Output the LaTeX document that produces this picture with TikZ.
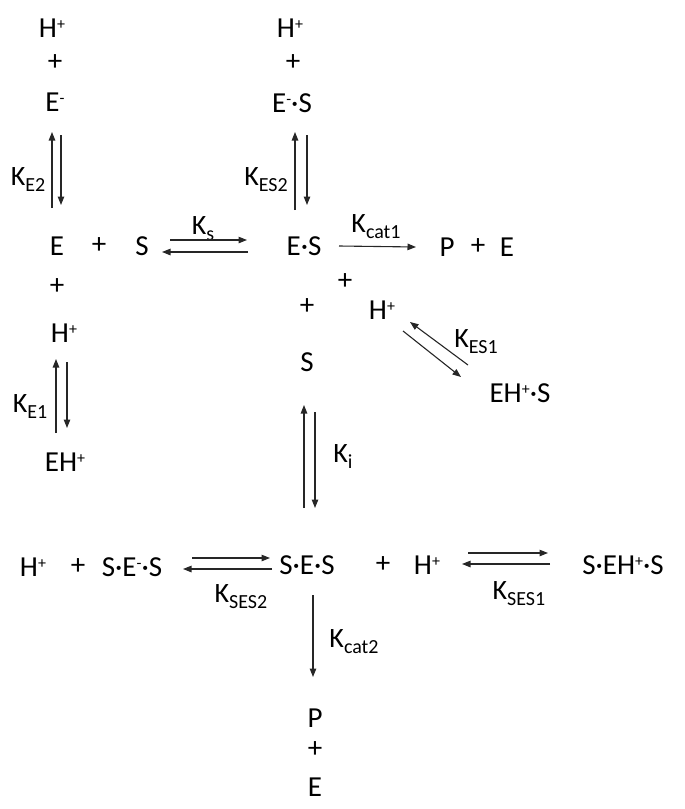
\documentclass[tikz,border=0pt]{standalone}
\usepackage{fontspec}
\setmainfont{Carlito}
\usetikzlibrary{arrows.meta}

\newcommand\chg[1]{\raisebox{0.55ex}{\fontsize{16}{16}\selectfont #1}}
\newcommand\kk[1]{K\raisebox{-0.45ex}{\fontsize{20}{20}\selectfont #1}}

\begin{document}
\begin{tikzpicture}[x=1pt,y=-1pt,
	species/.style={inner sep=0pt,font=\fontsize{29}{32}\selectfont},
	rate/.style={inner sep=0pt,font=\fontsize{28}{31}\selectfont},
	rxn/.style={line width=1.1pt,draw=black!85,-{Triangle[length=8.5pt,width=6.5pt]}}]

	\useasboundingbox (0,0) rectangle (685,809);

	% Colonne de gauche
	\node[species] (hpA) at (52,28) {H\chg{+}};
	\node[species] (plA) at (55,63) {+};
	\node[species] (emA) at (55,102) {E\chg{-}};
	\node[species] (eA) at (57,246) {E};
	\node[species] (plB) at (99,246) {+};
	\node[species] (sA) at (142,246) {S};
	\node[species] (plC) at (57,287) {+};
	\node[species] (hpB) at (64,333) {H\chg{+}};
	\node[species] (ehp) at (65,462) {EH\chg{+}};

	% Colonne du milieu
	\node[species] (hpC) at (290,28) {H\chg{+}};
	\node[species] (plD) at (293,63) {+};
	\node[species] (emS) at (292,103) {E\chg{-}·S};
	\node[species] (es) at (304,246) {E·S};
	\node[species] (pA) at (447,247) {P};
	\node[species] (plE) at (478,247) {+};
	\node[species] (eC) at (507,247) {E};
	\node[species] (plF) at (345,282) {+};
	\node[species] (plG) at (307,307) {+};
	\node[species] (hpD) at (382,310) {H\chg{+}};
	\node[species] (ehps) at (520,393) {EH\chg{+}·S};
	\node[species] (sB) at (307,362) {S};

	% Ligne du bas
	\node[species] (hpE) at (33,567) {H\chg{+}};
	\node[species] (plH) at (78,567) {+};
	\node[species] (sems) at (132,567) {S·E\chg{-}·S};
	\node[species] (ses) at (307,565) {S·E·S};
	\node[species] (plI) at (383,565) {+};
	\node[species] (hpF) at (427,565) {H\chg{+}};
	\node[species] (sehs) at (623,565) {S·EH\chg{+}·S};
	\node[species] (pB) at (315,718) {P};
	\node[species] (plJ) at (315,750) {+};
	\node[species] (eB) at (315,787) {E};

	% Constantes
	\node[rate] (kEtwo) at (28,180) {\kk{E2}};
	\node[rate] (kEStwo) at (266,180) {\kk{ES2}};
	\node[rate] (kS) at (203,229) {\kk{s}};
	\node[rate] (kcatone) at (376,227) {\kk{cat1}};
	\node[rate] (kESone) at (476,342) {\kk{ES1}};
	\node[rate] (kEone) at (30,407) {\kk{E1}};
	\node[rate] (ki) at (343,457) {\kk{i}};
	\node[rate] (kSEStwo) at (241,597) {\kk{SES2}};
	\node[rate] (kSESone) at (519,594) {\kk{SES1}};
	\node[rate] (kcattwo) at (354,642) {\kk{cat2}};

	% Fleches
	\draw[rxn] ([shift={(-5,-38)}]eA.center) -- ([shift={(-3,30)}]emA.center);
	\draw[rxn] ([shift={(6,33)}]emA.center) -- ([shift={(4,-41)}]eA.center);

	\draw[rxn] ([shift={(28,-6)}]sA.center) -- ([shift={(-57,-6)}]es.center);
	\draw[rxn] ([shift={(-56,6)}]es.center) -- ([shift={(20,6)}]sA.center);

	\draw[rxn] ([shift={(35,0)}]es.center) -- ([shift={(-31,0)}]pA.center);

	\draw[rxn] ([shift={(-52,-28)}]ehps.center) -- ([shift={(28,12)}]hpD.center);
	\draw[rxn] ([shift={(21,21)}]hpD.center) -- ([shift={(-59,-16)}]ehps.center);

	\draw[rxn] ([shift={(-9,-36)}]es.center) -- ([shift={(3,29)}]emS.center);
	\draw[rxn] ([shift={(15,32)}]emS.center) -- ([shift={(3,-41)}]es.center);

	\draw[rxn] ([shift={(-9,-29)}]ehp.center) -- ([shift={(-8,26)}]hpB.center);
	\draw[rxn] ([shift={(3,29)}]hpB.center) -- ([shift={(2,-34)}]ehp.center);

	\draw[rxn] ([shift={(-3,-57)}]ses.center) -- ([shift={(-3,43)}]sB.center);
	\draw[rxn] ([shift={(8,50)}]sB.center) -- ([shift={(8,-57)}]ses.center);

	\draw[rxn] ([shift={(60,-9)}]sems.center) -- ([shift={(-37,-7)}]ses.center);
	\draw[rxn] ([shift={(-35,4)}]ses.center) -- ([shift={(51,2)}]sems.center);

	\draw[rxn] ([shift={(41,-12)}]hpF.center) -- ([shift={(-75,-12)}]sehs.center);
	\draw[rxn] ([shift={(-73,-1)}]sehs.center) -- ([shift={(35,-1)}]hpF.center);

	\draw[rxn] ([shift={(6,30)}]ses.center) -- ([shift={(-2,-41)}]pB.center);

\end{tikzpicture}
\end{document}
